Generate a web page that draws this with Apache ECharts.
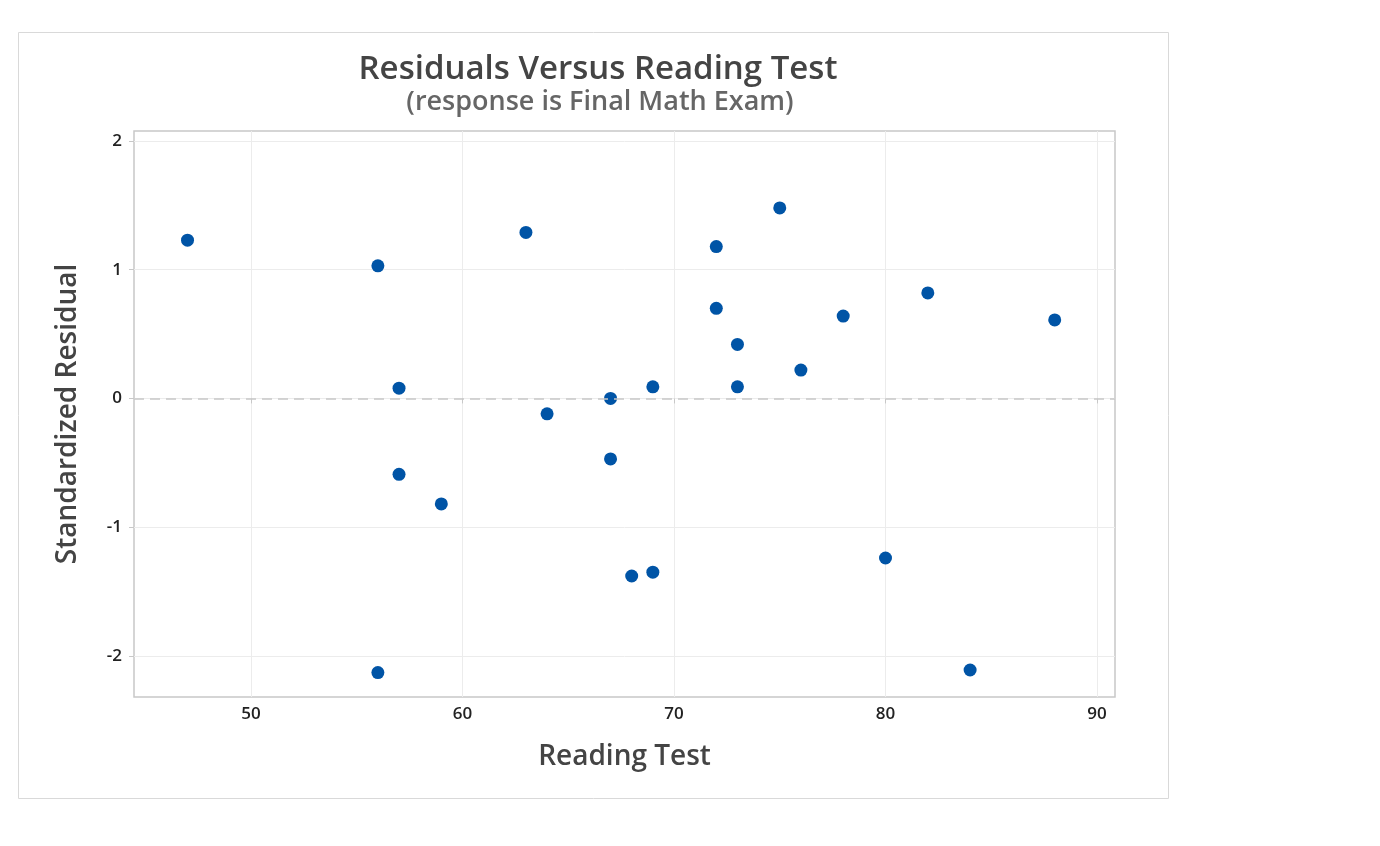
<!DOCTYPE html>
<html><head><meta charset="utf-8">
<script src="https://cdn.jsdelivr.net/npm/echarts@6/dist/echarts.min.js"></script>
<style>html,body{margin:0;padding:0;background:#fff}#c{width:1380px;height:846px}</style>
</head><body><div id="c"></div>
<script>
const readingTest = [47,56,56,57,57,59,63,64,67,67,68,69,69,72,72,73,73,75,76,78,80,82,84,88];
const stdResidual = [1.23,1.03,-2.13,0.08,-0.59,-0.82,1.29,-0.12,0.00,-0.47,-1.38,0.09,-1.35,1.18,0.70,0.42,0.09,1.48,0.22,0.64,-1.24,0.82,-2.11,0.61];
const xTicks = [50,60,70,80,90];
const yTicks = [-2,-1,0,1,2];
const xRange = [44.47, 90.85];
const yRange = [-2.32, 2.078];

const points = readingTest.map((x,i)=>[x, stdResidual[i]]);
const chart = echarts.init(document.getElementById('c'), null, {renderer:'canvas'});
const font = '"Open Sans", "Noto Sans", sans-serif';
chart.setOption({
  animation:false,
  graphic:[{type:'rect', shape:{x:18.5,y:32.5,width:1150,height:766}, style:{fill:'none', stroke:'#d9d9d9', lineWidth:1}, z:-10}],
  title:[
    {text:'Residuals Versus Reading Test', left:593, top:48, textAlign:'center',
     textStyle:{fontFamily:font, fontSize:33, fontWeight:600, color:'#444'}},
    {text:'(response is Final Math Exam)', left:595, top:84, textAlign:'center',
     textStyle:{fontFamily:font, fontSize:27, fontWeight:600, color:'#666'}}
  ],
  grid:{left:134, top:131, width:981, height:566, show:true, borderColor:'#c8c8c8', borderWidth:1.5, backgroundColor:'transparent'},
  xAxis:{type:'value', min:xRange[0], max:xRange[1],
    name:'Reading Test', nameLocation:'middle', nameGap:46,
    nameTextStyle:{fontFamily:font, fontSize:28, fontWeight:600, color:'#444'},
    axisLine:{show:false},
    axisTick:{show:true, customValues:xTicks, length:5, lineStyle:{color:'#c8c8c8'}},
    axisLabel:{customValues:xTicks, fontFamily:font, fontSize:17, fontWeight:600, color:'#222', margin:9},
    splitLine:{show:true, lineStyle:{color:'#ececec', width:1}}
  },
  yAxis:{type:'value', min:yRange[0], max:yRange[1],
    name:'Standardized Residual', nameLocation:'middle', nameGap:52,
    nameTextStyle:{fontFamily:font, fontSize:28, fontWeight:600, color:'#444'},
    axisLine:{show:false},
    axisTick:{show:true, customValues:yTicks, length:5, lineStyle:{color:'#c8c8c8'}},
    axisLabel:{customValues:yTicks, fontFamily:font, fontSize:17, fontWeight:600, color:'#222', margin:12},
    splitLine:{show:true, lineStyle:{color:'#ececec', width:1}}
  },
  series:[{type:'scatter', data:points, symbol:'circle', symbolSize:13,
    itemStyle:{color:'#0054A6', opacity:1},
    markLine:{silent:true, symbol:'none', label:{show:false},
      lineStyle:{type:[10,6], color:'#c8c8c8', width:1.5},
      data:[{yAxis:0}]}
  }]
});
</script></body></html>
